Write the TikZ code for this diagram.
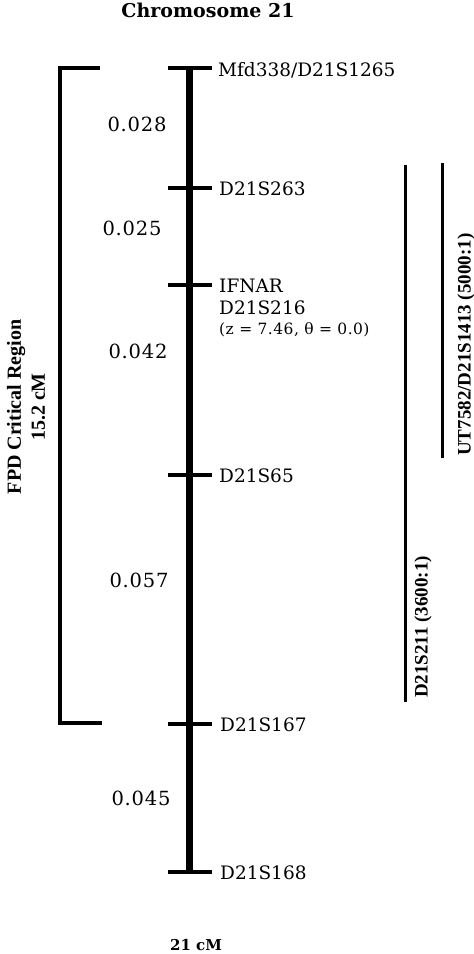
\documentclass[tikz,border=0pt]{standalone}
\usepackage{fontspec}
\setmainfont{DejaVu Serif}
\newfontfamily\timesf{Liberation Serif}
\begin{document}
\begin{tikzpicture}[x=1pt,y=-1pt,
  axisline/.style={line width=7pt},
  tickline/.style={line width=3.6pt},
  bracketline/.style={line width=3.2pt},
  spanline/.style={line width=3pt},
  mlabel/.style={anchor=west,inner sep=0pt,font=\fontsize{18.5}{22}\selectfont},
  dlabel/.style={anchor=center,inner sep=0pt,font=\addfontfeature{LetterSpace=4}\fontsize{19.5}{22}\selectfont},
  rlabel/.style={rotate=90,inner sep=0pt,font=\timesf\bfseries\fontsize{19}{22}\selectfont}]
\useasboundingbox (0,0) rectangle (474,954);
% title
\node[inner sep=0pt,font=\bfseries\fontsize{19}{22}\selectfont] (title) at (208,10) {Chromosome 21};
% marker positions on the axis
\coordinate (m1) at (189,68);
\coordinate (m2) at (189,188);
\coordinate (m3) at (189,285);
\coordinate (m4) at (189,475);
\coordinate (m5) at (189,724);
\coordinate (m6) at (189,872);
\draw[axisline] (m1) -- (m6);
\foreach \m in {m1,m2,m3,m4,m5,m6}{
  \draw[tickline] ([xshift=-21pt]\m) -- ([xshift=23pt]\m);
}
% marker labels
\node[mlabel] (l1) at (218,70) {Mfd338/D21S1265};
\node[mlabel] (l2) at (219,189) {D21S263};
\node[mlabel] (l3) at (219,286) {IFNAR};
\node[mlabel] (l3b) at (219,308) {D21S216};
\node[mlabel,font=\addfontfeature{LetterSpace=3}\fontsize{15.5}{18}\selectfont] (l3c) at (219,330) {(z = 7.46, θ = 0.0)};
\node[mlabel] (l4) at (219,476) {D21S65};
\node[mlabel] (l5) at (220,725) {D21S167};
\node[mlabel] (l6) at (220,873) {D21S168};
% distances
\node[dlabel] (d1) at (137,124) {0.028};
\node[dlabel] (d2) at (132,228) {0.025};
\node[dlabel] (d3) at (138,351) {0.042};
\node[dlabel] (d4) at (139,580) {0.057};
\node[dlabel] (d5) at (141,798) {0.045};
% bottom total
\node[inner sep=0pt,font=\bfseries\fontsize{15}{18}\selectfont] (total) at (196,945) {21 cM};
% FPD bracket
\coordinate (b1) at (100,68);
\coordinate (b2) at (60,68);
\coordinate (b3) at (60,723);
\coordinate (b4) at (102,723);
\draw[bracketline] (b1) -- (b2) -- (b3) -- (b4);
\node[rlabel,font=\timesf\bfseries\fontsize{20}{24}\selectfont,align=center] (fpd) at (26,407) {FPD Critical Region\\15.2 cM};
% right spans
\coordinate (s1t) at (405,165);
\coordinate (s1b) at (405,702);
\draw[spanline] (s1t) -- (s1b);
\node[rlabel,anchor=west] (s1l) at (423,698) {D21S211 (3600:1)};
\coordinate (s2t) at (442,163);
\coordinate (s2b) at (442,458);
\draw[spanline] (s2t) -- (s2b);
\node[rlabel,anchor=west] (s2l) at (466,456) {UT7582/D21S1413 (5000:1)};
\end{tikzpicture}
\end{document}
